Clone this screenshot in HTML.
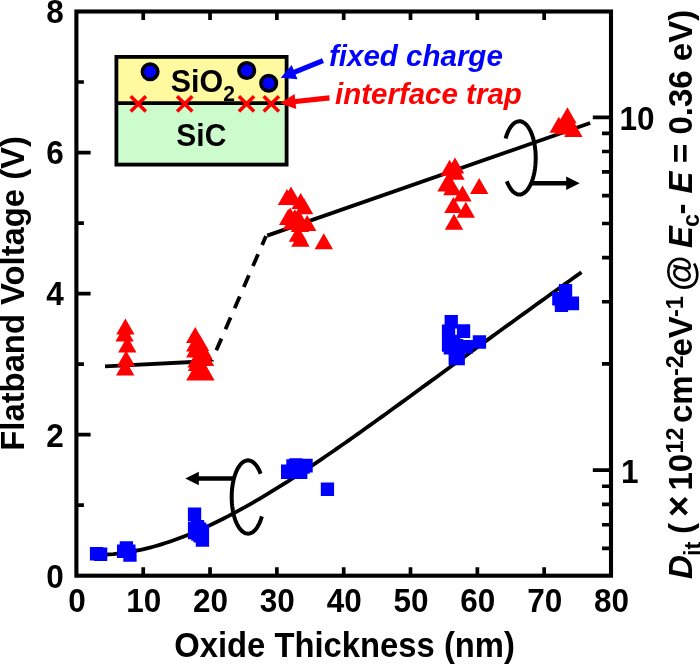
<!DOCTYPE html><html><head><meta charset="utf-8"><style>html,body{margin:0;padding:0;background:#fff;}svg{display:block;}</style></head><body><svg width="700" height="664" viewBox="0 0 700 664">
<rect width="700" height="664" fill="#fff"/>
<rect x="116.4" y="56.9" width="170.2" height="46.3" fill="#FFFA9F"/>
<rect x="116.4" y="103" width="170.2" height="61.6" fill="#CCFCCC"/>
<rect x="116.4" y="56.9" width="170.2" height="107.7" fill="none" stroke="#000" stroke-width="3.8"/>
<line x1="116.4" y1="103.2" x2="286.6" y2="103.2" stroke="#000" stroke-width="3.8"/>
<circle cx="150.1" cy="71.8" r="7.75" fill="#0000FF" stroke="#000" stroke-width="3.6"/>
<circle cx="246.7" cy="70.55" r="7.75" fill="#0000FF" stroke="#000" stroke-width="3.6"/>
<circle cx="268.7" cy="83.2" r="7.75" fill="#0000FF" stroke="#000" stroke-width="3.6"/>
<path d="M130.70,96.30L145.90,111.50M130.70,111.50L145.90,96.30" stroke="#FF0000" stroke-width="3.6" fill="none"/>
<path d="M177.10,96.30L192.30,111.50M177.10,111.50L192.30,96.30" stroke="#FF0000" stroke-width="3.6" fill="none"/>
<path d="M238.90,96.30L254.10,111.50M238.90,111.50L254.10,96.30" stroke="#FF0000" stroke-width="3.6" fill="none"/>
<path d="M263.70,96.30L278.90,111.50M263.70,111.50L278.90,96.30" stroke="#FF0000" stroke-width="3.6" fill="none"/>
<text x="170.8" y="92.2" transform="matrix(1.0,0,0,1.055,0.000,-5.071)" font-family="'Liberation Sans', Arial, sans-serif" font-weight="bold" font-size="30.4" fill="#000">SiO<tspan font-size="21" dy="8.3">2</tspan></text>
<text x="201.3" y="145.9" transform="matrix(1.0,0,0,1.065,0.000,-9.483)" font-family="'Liberation Sans', Arial, sans-serif" font-weight="bold" font-size="30" fill="#000" text-anchor="middle">SiC</text>
<line x1="323" y1="60.6" x2="292.75" y2="72.83" stroke="#0000FF" stroke-width="5.2"/><path d="M280.70,77.70L291.70,64.89L297.51,79.26Z" fill="#0000FF"/>
<line x1="329.5" y1="97.9" x2="293.42" y2="101.77" stroke="#FF0000" stroke-width="5.2"/><path d="M280.10,103.20L294.60,94.00L296.22,109.11Z" fill="#FF0000"/>
<text x="329" y="66.2" font-family="'Liberation Sans', Arial, sans-serif" font-weight="bold" font-style="italic" font-size="29.5" fill="#0000FF">fixed charge</text>
<text x="335" y="103.8" transform="matrix(1.0,0,0,0.97,0.000,3.114)" font-family="'Liberation Sans', Arial, sans-serif" font-weight="bold" font-style="italic" font-size="29.5" fill="#FF0000">interface trap</text>
<polyline points="105,366.4 211.7,361" fill="none" stroke="#000" stroke-width="3.8"/>
<line x1="211.7" y1="361" x2="266" y2="236" stroke="#000" stroke-width="3.8" stroke-dasharray="12.8 10.2" stroke-dashoffset="11.4"/>
<line x1="267.2" y1="235.6" x2="590.2" y2="123" stroke="#000" stroke-width="3.8"/>
<polyline points="97.00,554.87 101.07,554.81 105.14,554.67 109.21,554.43 113.29,554.11 117.36,553.70 121.43,553.21 125.50,552.64 129.57,551.99 133.64,551.25 137.71,550.45 141.79,549.57 145.86,548.61 149.93,547.59 154.00,546.49 158.07,545.33 162.14,544.10 166.21,542.80 170.29,541.45 174.36,540.03 178.43,538.55 182.50,537.01 186.57,535.42 190.64,533.77 194.71,532.06 198.79,530.30 202.86,528.50 206.93,526.64 211.00,524.73 215.07,522.78 219.14,520.78 223.21,518.74 227.29,516.65 231.36,514.52 235.43,512.35 239.50,510.15 243.57,507.90 247.64,505.62 251.71,503.30 255.79,500.95 259.86,498.57 263.93,496.15 268.00,493.70 272.07,491.22 276.14,488.72 280.21,486.18 284.29,483.62 288.36,481.04 292.43,478.43 296.50,475.80 300.57,473.14 304.64,470.46 308.71,467.76 312.79,465.05 316.86,462.31 320.93,459.56 325.00,456.78 329.07,454.00 333.14,451.19 337.21,448.38 341.29,445.55 345.36,442.70 349.43,439.85 353.50,436.98 357.57,434.10 361.64,431.21 365.71,428.31 369.79,425.41 373.86,422.49 377.93,419.57 382.00,416.64 386.07,413.71 390.14,410.77 394.21,407.82 398.29,404.87 402.36,401.91 406.43,398.96 410.50,395.99 414.57,393.03 418.64,390.06 422.71,387.09 426.79,384.13 430.86,381.15 434.93,378.18 439.00,375.21 443.07,372.24 447.14,369.27 451.21,366.30 455.29,363.32 459.36,360.36 463.43,357.39 467.50,354.42 471.57,351.46 475.64,348.49 479.71,345.53 483.79,342.57 487.86,339.61 491.93,336.66 496.00,333.71 500.07,330.76 504.14,327.81 508.21,324.87 512.29,321.92 516.36,318.98 520.43,316.05 524.50,313.11 528.57,310.18 532.64,307.25 536.71,304.32 540.79,301.39 544.86,298.47 548.93,295.55 553.00,292.62 557.07,289.70 561.14,286.78 565.21,283.87 569.29,280.95 573.36,278.03 577.43,275.11 581.50,272.20" fill="none" stroke="#000" stroke-width="3.8" stroke-linejoin="round"/>
<polyline points="505.58,138.50 506.15,136.59 506.77,134.76 507.44,133.03 508.16,131.39 508.93,129.85 509.73,128.43 510.58,127.12 511.46,125.94 512.37,124.88 513.31,123.95 514.27,123.16 515.25,122.50 516.25,121.99 517.26,121.62 518.28,121.39 519.31,121.30 520.33,121.36 521.36,121.56 522.37,121.91 523.37,122.40 524.36,123.03 525.32,123.80 526.27,124.71 527.18,125.74 528.07,126.90 528.92,128.19 529.73,129.59 530.50,131.11 531.23,132.73 531.91,134.45 532.55,136.26 533.13,138.16 533.65,140.14 534.12,142.18 534.53,144.29 534.88,146.46 535.17,148.66 535.40,150.91 535.56,153.18 535.66,155.47 535.70,157.78 535.67,160.08 535.58,162.37 535.42,164.65 535.20,166.89 534.92,169.11 534.57,171.28 534.17,173.39 533.70,175.45 533.19,177.43 532.61,179.34 531.98,181.16 531.31,182.89 530.59,184.52 529.82,186.05 529.01,187.46 528.16,188.76 527.28,189.94 526.37,190.99 525.43,191.91 524.46,192.69 523.48,193.34 522.48,193.84 521.47,194.20 520.44,194.42 519.42,194.50 518.39,194.43 517.37,194.22 516.36,193.86 515.36,193.36 514.38,192.72 513.41,191.94 512.47,191.03 511.55,189.98 510.67,188.81 509.82,187.52 509.01,186.11 508.24,184.58 507.52,182.96 506.84,181.23" fill="none" stroke="#000" stroke-width="4"/><line x1="531.1785292632402" y1="183.2" x2="568.20" y2="183.20" stroke="#000" stroke-width="4.6"/><path d="M579.70,183.20L566.20,189.95L566.20,176.45Z" fill="#000"/>
<polyline points="260.58,473.69 259.90,471.96 259.18,470.32 258.41,468.79 257.60,467.38 256.75,466.08 255.87,464.90 254.95,463.85 254.01,462.94 253.05,462.15 252.06,461.51 251.06,461.00 250.05,460.64 249.03,460.42 248.00,460.35 246.98,460.42 245.96,460.64 244.94,461.00 243.94,461.50 242.96,462.15 241.99,462.93 241.05,463.85 240.14,464.89 239.26,466.07 238.41,467.37 237.60,468.78 236.83,470.31 236.10,471.94 235.43,473.68 234.80,475.50 234.22,477.41 233.70,479.40 233.24,481.45 232.83,483.57 232.49,485.74 232.20,487.96 231.98,490.21 231.82,492.49 231.73,494.79 231.70,497.09 231.73,499.40 231.83,501.69 232.00,503.97 232.22,506.22 232.51,508.43 232.86,510.60 233.27,512.71 233.74,514.76 234.27,516.75 234.85,518.65 235.48,520.47 236.16,522.19 236.89,523.82 237.66,525.33 238.47,526.74 239.32,528.03 240.21,529.19 241.13,530.23 242.07,531.14 243.04,531.91 244.02,532.54 245.02,533.03 246.04,533.38 247.06,533.59 248.09,533.65 249.11,533.56 250.13,533.34 251.14,532.96 252.14,532.45 253.13,531.79 254.09,531.00 255.03,530.07 255.94,529.01 256.82,527.82 257.66,526.51 258.47,525.09 259.24,523.55 259.96,521.91 260.63,520.17 261.25,518.34 261.82,516.42" fill="none" stroke="#000" stroke-width="4"/><line x1="233.92900857093724" y1="478.5" x2="196.80" y2="478.50" stroke="#000" stroke-width="4.6"/><path d="M185.30,478.50L198.80,471.75L198.80,485.25Z" fill="#000"/>
<path fill="#FF0000" d="M125.40,318.50L134.60,334.50L116.20,334.50ZM124.60,325.40L133.80,341.40L115.40,341.40ZM127.30,336.40L136.50,352.40L118.10,352.40ZM126.10,350.50L135.30,366.50L116.90,366.50ZM125.20,359.60L134.40,375.60L116.00,375.60ZM195.20,327.00L204.40,343.00L186.00,343.00ZM195.30,335.50L204.50,351.50L186.10,351.50ZM195.30,341.50L204.50,357.50L186.10,357.50ZM196.50,351.50L205.70,367.50L187.30,367.50ZM197.00,355.00L206.20,371.00L187.80,371.00ZM195.35,364.40L204.55,380.40L186.15,380.40ZM200.00,335.00L209.20,351.00L190.80,351.00ZM203.50,343.30L212.70,359.30L194.30,359.30ZM205.00,350.00L214.20,366.00L195.80,366.00ZM205.50,364.40L214.70,380.40L196.30,380.40ZM200.00,362.00L209.20,378.00L190.80,378.00ZM287.00,189.00L296.20,205.00L277.80,205.00ZM291.00,186.40L300.20,202.40L281.80,202.40ZM300.70,193.00L309.90,209.00L291.50,209.00ZM304.10,198.20L313.30,214.20L294.90,214.20ZM290.20,207.40L299.40,223.40L281.00,223.40ZM288.20,209.10L297.40,225.10L279.00,225.10ZM294.80,209.30L304.00,225.30L285.60,225.30ZM299.50,211.00L308.70,227.00L290.30,227.00ZM292.00,213.70L301.20,229.70L282.80,229.70ZM307.20,215.00L316.40,231.00L298.00,231.00ZM298.00,225.80L307.20,241.80L288.80,241.80ZM300.40,230.70L309.60,246.70L291.20,246.70ZM293.00,212.00L302.20,228.00L283.80,228.00ZM300.00,216.00L309.20,232.00L290.80,232.00ZM323.80,233.30L333.00,249.30L314.60,249.30ZM449.60,159.80L458.80,175.80L440.40,175.80ZM455.00,157.40L464.20,173.40L445.80,173.40ZM455.50,163.80L464.70,179.80L446.30,179.80ZM448.50,173.00L457.70,189.00L439.30,189.00ZM446.55,175.40L455.75,191.40L437.35,191.40ZM452.40,179.20L461.60,195.20L443.20,195.20ZM462.50,185.40L471.70,201.40L453.30,201.40ZM479.20,178.10L488.40,194.10L470.00,194.10ZM453.40,197.10L462.60,213.10L444.20,213.10ZM465.80,201.80L475.00,217.80L456.60,217.80ZM454.00,213.80L463.20,229.80L444.80,229.80ZM567.40,107.30L576.60,123.30L558.20,123.30ZM558.80,116.80L568.00,132.80L549.60,132.80ZM573.40,121.00L582.60,137.00L564.20,137.00ZM564.00,118.60L573.20,134.60L554.80,134.60ZM569.00,114.00L578.20,130.00L559.80,130.00Z"/>
<path fill="#0000FF" d="M89.9,547h13.3v13.6h-13.3ZM94,547.4h13.3v13.6h-13.3ZM117,544.4h13.3v13.6h-13.3ZM119.7,541.3h13.3v13.6h-13.3ZM122.2,544.4h13.3v13.6h-13.3ZM123.3,548.2h13.3v13.6h-13.3ZM187.9,507.4h13.3v13.6h-13.3ZM187.9,521.4h13.3v13.6h-13.3ZM187.9,525.6h13.3v13.6h-13.3ZM191.3,527.1h13.3v13.6h-13.3ZM193.5,529h13.3v13.6h-13.3ZM190.9,519.9h13.3v13.6h-13.3ZM193,522.6h13.3v13.6h-13.3ZM195.8,524.5h13.3v13.6h-13.3ZM195.8,533.2h13.3v13.6h-13.3ZM281,464.4h13.3v13.6h-13.3ZM286.3,459.3h13.3v13.6h-13.3ZM289.3,458.2h13.3v13.6h-13.3ZM299.4,458.8h13.3v13.6h-13.3ZM296.4,460.1h13.3v13.6h-13.3ZM294.1,465.5h13.3v13.6h-13.3ZM281,465.5h13.3v13.6h-13.3ZM320.8,482.4h13.3v13.6h-13.3ZM444.6,315h13.3v13.6h-13.3ZM441.9,324.4h13.3v13.6h-13.3ZM441.9,331h13.3v13.6h-13.3ZM441.9,338.2h13.3v13.6h-13.3ZM443.7,340.9h13.3v13.6h-13.3ZM448.6,351.6h13.3v13.6h-13.3ZM451.6,351.6h13.3v13.6h-13.3ZM456.9,324.3h13.3v13.6h-13.3ZM459.6,340h13.3v13.6h-13.3ZM472.8,335.2h13.3v13.6h-13.3ZM447,334.8h13.3v13.6h-13.3ZM450,339h13.3v13.6h-13.3ZM558.9,283.9h13.3v13.6h-13.3ZM552.2,292h13.3v13.6h-13.3ZM565.8,296.6h13.3v13.6h-13.3ZM554.8,298.3h13.3v13.6h-13.3ZM558.9,290h13.3v13.6h-13.3Z"/>
<rect x="76.4" y="11.5" width="534.6" height="564.2" fill="none" stroke="#000" stroke-width="4.1"/>
<path d="M143.23,575.7V567.2M143.23,11.5V20.0M210.05,575.7V567.2M210.05,11.5V20.0M276.88,575.7V567.2M276.88,11.5V20.0M343.70,575.7V567.2M343.70,11.5V20.0M410.52,575.7V567.2M410.52,11.5V20.0M477.35,575.7V567.2M477.35,11.5V20.0M544.17,575.7V567.2M544.17,11.5V20.0M76.4,505.18H83.9M76.4,434.65H90.60000000000001M76.4,364.12H83.9M76.4,293.60H90.60000000000001M76.4,223.08H83.9M76.4,152.55H90.60000000000001M76.4,82.02H83.9M611.0,548.37H602.0M611.0,524.75H602.0M611.0,504.29H602.0M611.0,486.24H602.0M611.0,470.10H592.8M611.0,363.90H602.0M611.0,301.77H602.0M611.0,257.69H602.0M611.0,223.50H602.0M611.0,195.57H602.0M611.0,171.95H602.0M611.0,151.49H602.0M611.0,133.44H602.0M611.0,117.30H592.8" stroke="#000" stroke-width="3.7" fill="none"/>
<text x="63.8" y="587.60" transform="matrix(0.985,0,0,1.06,0.957,-35.256)" font-family="'Liberation Sans', Arial, sans-serif" font-weight="bold" font-size="32" text-anchor="end">0</text>
<text x="63.8" y="446.55" transform="matrix(0.985,0,0,1.06,0.957,-26.793)" font-family="'Liberation Sans', Arial, sans-serif" font-weight="bold" font-size="32" text-anchor="end">2</text>
<text x="63.8" y="305.50" transform="matrix(0.985,0,0,1.06,0.957,-18.330)" font-family="'Liberation Sans', Arial, sans-serif" font-weight="bold" font-size="32" text-anchor="end">4</text>
<text x="63.8" y="164.45" transform="matrix(0.985,0,0,1.06,0.957,-9.867)" font-family="'Liberation Sans', Arial, sans-serif" font-weight="bold" font-size="32" text-anchor="end">6</text>
<text x="63.8" y="23.40" transform="matrix(0.985,0,0,1.06,0.957,-1.404)" font-family="'Liberation Sans', Arial, sans-serif" font-weight="bold" font-size="32" text-anchor="end">8</text>
<text x="76.90" y="611.8" transform="matrix(0.985,0,0,1.065,1.154,-39.767)" font-family="'Liberation Sans', Arial, sans-serif" font-weight="bold" font-size="32" text-anchor="middle">0</text>
<text x="143.73" y="611.8" transform="matrix(0.985,0,0,1.065,2.156,-39.767)" font-family="'Liberation Sans', Arial, sans-serif" font-weight="bold" font-size="32" text-anchor="middle">10</text>
<text x="210.55" y="611.8" transform="matrix(0.985,0,0,1.065,3.158,-39.767)" font-family="'Liberation Sans', Arial, sans-serif" font-weight="bold" font-size="32" text-anchor="middle">20</text>
<text x="277.38" y="611.8" transform="matrix(0.985,0,0,1.065,4.161,-39.767)" font-family="'Liberation Sans', Arial, sans-serif" font-weight="bold" font-size="32" text-anchor="middle">30</text>
<text x="344.20" y="611.8" transform="matrix(0.985,0,0,1.065,5.163,-39.767)" font-family="'Liberation Sans', Arial, sans-serif" font-weight="bold" font-size="32" text-anchor="middle">40</text>
<text x="411.02" y="611.8" transform="matrix(0.985,0,0,1.065,6.165,-39.767)" font-family="'Liberation Sans', Arial, sans-serif" font-weight="bold" font-size="32" text-anchor="middle">50</text>
<text x="477.85" y="611.8" transform="matrix(0.985,0,0,1.065,7.168,-39.767)" font-family="'Liberation Sans', Arial, sans-serif" font-weight="bold" font-size="32" text-anchor="middle">60</text>
<text x="544.67" y="611.8" transform="matrix(0.985,0,0,1.065,8.170,-39.767)" font-family="'Liberation Sans', Arial, sans-serif" font-weight="bold" font-size="32" text-anchor="middle">70</text>
<text x="611.50" y="611.8" transform="matrix(0.985,0,0,1.065,9.173,-39.767)" font-family="'Liberation Sans', Arial, sans-serif" font-weight="bold" font-size="32" text-anchor="middle">80</text>
<text x="619.6" y="130.10" transform="matrix(0.985,0,0,1.06,9.300,-7.806)" font-family="'Liberation Sans', Arial, sans-serif" font-weight="bold" font-size="32">10</text>
<text x="621" y="483.20" transform="matrix(0.985,0,0,1.06,9.315,-28.992)" font-family="'Liberation Sans', Arial, sans-serif" font-weight="bold" font-size="32">1</text>
<text x="344.6" y="657.0" transform="matrix(1.0,0,0,1.07,0.000,-45.990)" font-family="'Liberation Sans', Arial, sans-serif" font-weight="bold" font-size="32.8" text-anchor="middle">Oxide Thickness (nm)</text>
<text transform="translate(23.8,293.4) rotate(-90)" x="0" y="0" font-family="'Liberation Sans', Arial, sans-serif" font-weight="bold" font-size="32.8" text-anchor="middle">Flatband Voltage (V)</text>
<text transform="translate(692,0) rotate(-90)" font-family="'Liberation Sans', Arial, sans-serif" font-weight="bold"><tspan x="-579.00" y="0" font-size="33" font-style="italic">D</tspan><tspan x="-556.00" y="9.0" font-size="23.5" >it</tspan><tspan x="-534.00" y="0" font-size="33" >(</tspan><tspan x="-517.00" y="-0.6" font-size="37" >×</tspan><tspan x="-490.50" y="0" font-size="33" >10</tspan><tspan x="-453.50" y="-8.6" font-size="23.5" >12</tspan><tspan x="-423.00" y="0" font-size="33" >cm</tspan><tspan x="-376.00" y="-8.6" font-size="23.5" >-2</tspan><tspan x="-356.50" y="0" font-size="33" >eV</tspan><tspan x="-317.00" y="-8.6" font-size="23.5" >-1</tspan><tspan x="-291.00" y="0.5" font-size="36.5" >@</tspan><tspan x="-248.00" y="0" font-size="33" font-style="italic">E</tspan><tspan x="-227.00" y="6.8" font-size="23.5" >c</tspan><tspan x="-214.50" y="0" font-size="33" >-</tspan><tspan x="-193.50" y="0" font-size="33" font-style="italic">E</tspan><tspan x="-163.00" y="0" font-size="33" >= 0.36 eV)</tspan></text>
</svg></body></html>
